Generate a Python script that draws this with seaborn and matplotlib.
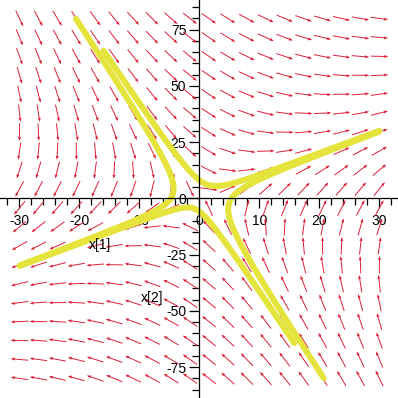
import numpy as np
import pandas as pd
import matplotlib
matplotlib.use("Agg")
import matplotlib.pyplot as plt
from matplotlib.ticker import MultipleLocator, FixedLocator
import seaborn as sns

# ---- linear system  x' = M x  (x[1], x[2]) ----
M = [[1.0, 1.0],
     [4.0, -2.0]]

# direction-field window and grid
field_x = [-30.0, 30.0]
field_y = [-80.0, 80.0]
grid_n = [20, 20]

# solution curves: point at t = 0, backward / forward time
ic_x1 = [-4.3, 2.75, 4.8, -2.0]
ic_x2 = [4.3, 5.5, -4.8, -4.0]
t_from = [-1.5, -1.13, -1.5, -1.23]
t_to = [2.0, 2.0, 2.0, 2.0]

x_ticks = [-30, -20, -10, 0, 10, 20, 30]
y_ticks = [-75, -50, -25, 0, 25, 50, 75]
x_label = "x[1]"
y_label = "x[2]"

sns.set_theme(style="white")
plt.rcParams["font.family"] = ["Liberation Sans", "DejaVu Sans"]

W = H = 398
fig = plt.figure(figsize=(W / 100, H / 100), dpi=100)
ax = fig.add_axes([0, 0, 1, 1])
ax.set_facecolor("white")

xlim = (-33.25, 33.1)
ylim = (-88.7, 88.2)
ax.set_xlim(*xlim)
ax.set_ylim(*ylim)
sx = W / (xlim[1] - xlim[0])
sy = H / (ylim[1] - ylim[0])

A = np.array(M)

# ---- direction field ----
gx = np.linspace(field_x[0], field_x[1], grid_n[0])
gy = np.linspace(field_y[0], field_y[1], grid_n[1])
X, Y = np.meshgrid(gx, gy)
U = A[0, 0] * X + A[0, 1] * Y
V = A[1, 0] * X + A[1, 1] * Y
Up, Vp = U * sx, V * sy
L = np.hypot(Up, Vp)
L[L == 0] = 1
ax.quiver(X, Y, Up / L, Vp / L, angles="uv", scale_units="dots", scale=1 / 17.5,
          pivot="middle", color="#dc1c34", width=0.0024, headwidth=3.2,
          headlength=4.2, headaxislength=3.9, zorder=1)

# ---- solution curves ----
vals, vecs = np.linalg.eig(A)
inv = np.linalg.inv(vecs)
rows = []
for k, (a, b, t0, t1) in enumerate(zip(ic_x1, ic_x2, t_from, t_to)):
    t = np.linspace(t0, t1, 4000)
    c = inv @ np.array([a, b])
    sol = (vecs @ (c[:, None] * np.exp(np.outer(vals, t)))).real
    inside = ((sol[0] >= field_x[0]) & (sol[0] <= field_x[1]) &
              (sol[1] >= field_y[0]) & (sol[1] <= field_y[1]))
    i0 = np.argmin(np.abs(t))
    lo = i0
    while lo > 0 and inside[lo - 1]:
        lo -= 1
    hi = i0
    while hi < len(t) - 1 and inside[hi + 1]:
        hi += 1
    for j in range(lo, hi + 1):
        rows.append((k, j, sol[0, j], sol[1, j]))
df = pd.DataFrame(rows, columns=["curve", "order", "x1", "x2"])
sns.lineplot(data=df, x="x1", y="x2", units="curve", estimator=None, sort=False,
             color="#e4e43c", lw=4.3, ax=ax, zorder=3,
             solid_capstyle="round", legend=False)

# ---- axes through the origin ----
for s in ["top", "right"]:
    ax.spines[s].set_visible(False)
ax.spines["left"].set_position(("data", 0))
ax.spines["bottom"].set_position(("data", 0))
for s in ["left", "bottom"]:
    ax.spines[s].set_color("black")
    ax.spines[s].set_linewidth(0.9)
    ax.spines[s].set_zorder(4)

ax.xaxis.set_major_locator(FixedLocator(x_ticks))
ax.yaxis.set_major_locator(FixedLocator(y_ticks))
ax.xaxis.set_minor_locator(MultipleLocator(2))
ax.yaxis.set_minor_locator(MultipleLocator(5))
ax.set_xticklabels([str(v) for v in x_ticks])
ax.set_yticklabels([str(v) for v in y_ticks])
ax.tick_params(which="major", direction="out", length=7.5, width=0.9, color="black",
               labelsize=10, labelcolor="black")
ax.tick_params(which="minor", direction="out", length=4.8, width=0.9, color="black")
ax.tick_params(axis="x", which="major", pad=4.0)
ax.tick_params(axis="y", which="major", pad=2.0)
ax.xaxis.set_ticks_position("bottom")
ax.yaxis.set_ticks_position("left")
ax.set_xlabel("")
ax.set_ylabel("")

ax.text(100 / W, 1 - 245 / H, x_label, transform=ax.transAxes, ha="center",
        va="center", fontsize=10, color="black")
ax.text(152 / W, 1 - 298 / H, y_label, transform=ax.transAxes, ha="center",
        va="center", fontsize=10, color="black")

fig.savefig("out.png", dpi=100, facecolor="white")
